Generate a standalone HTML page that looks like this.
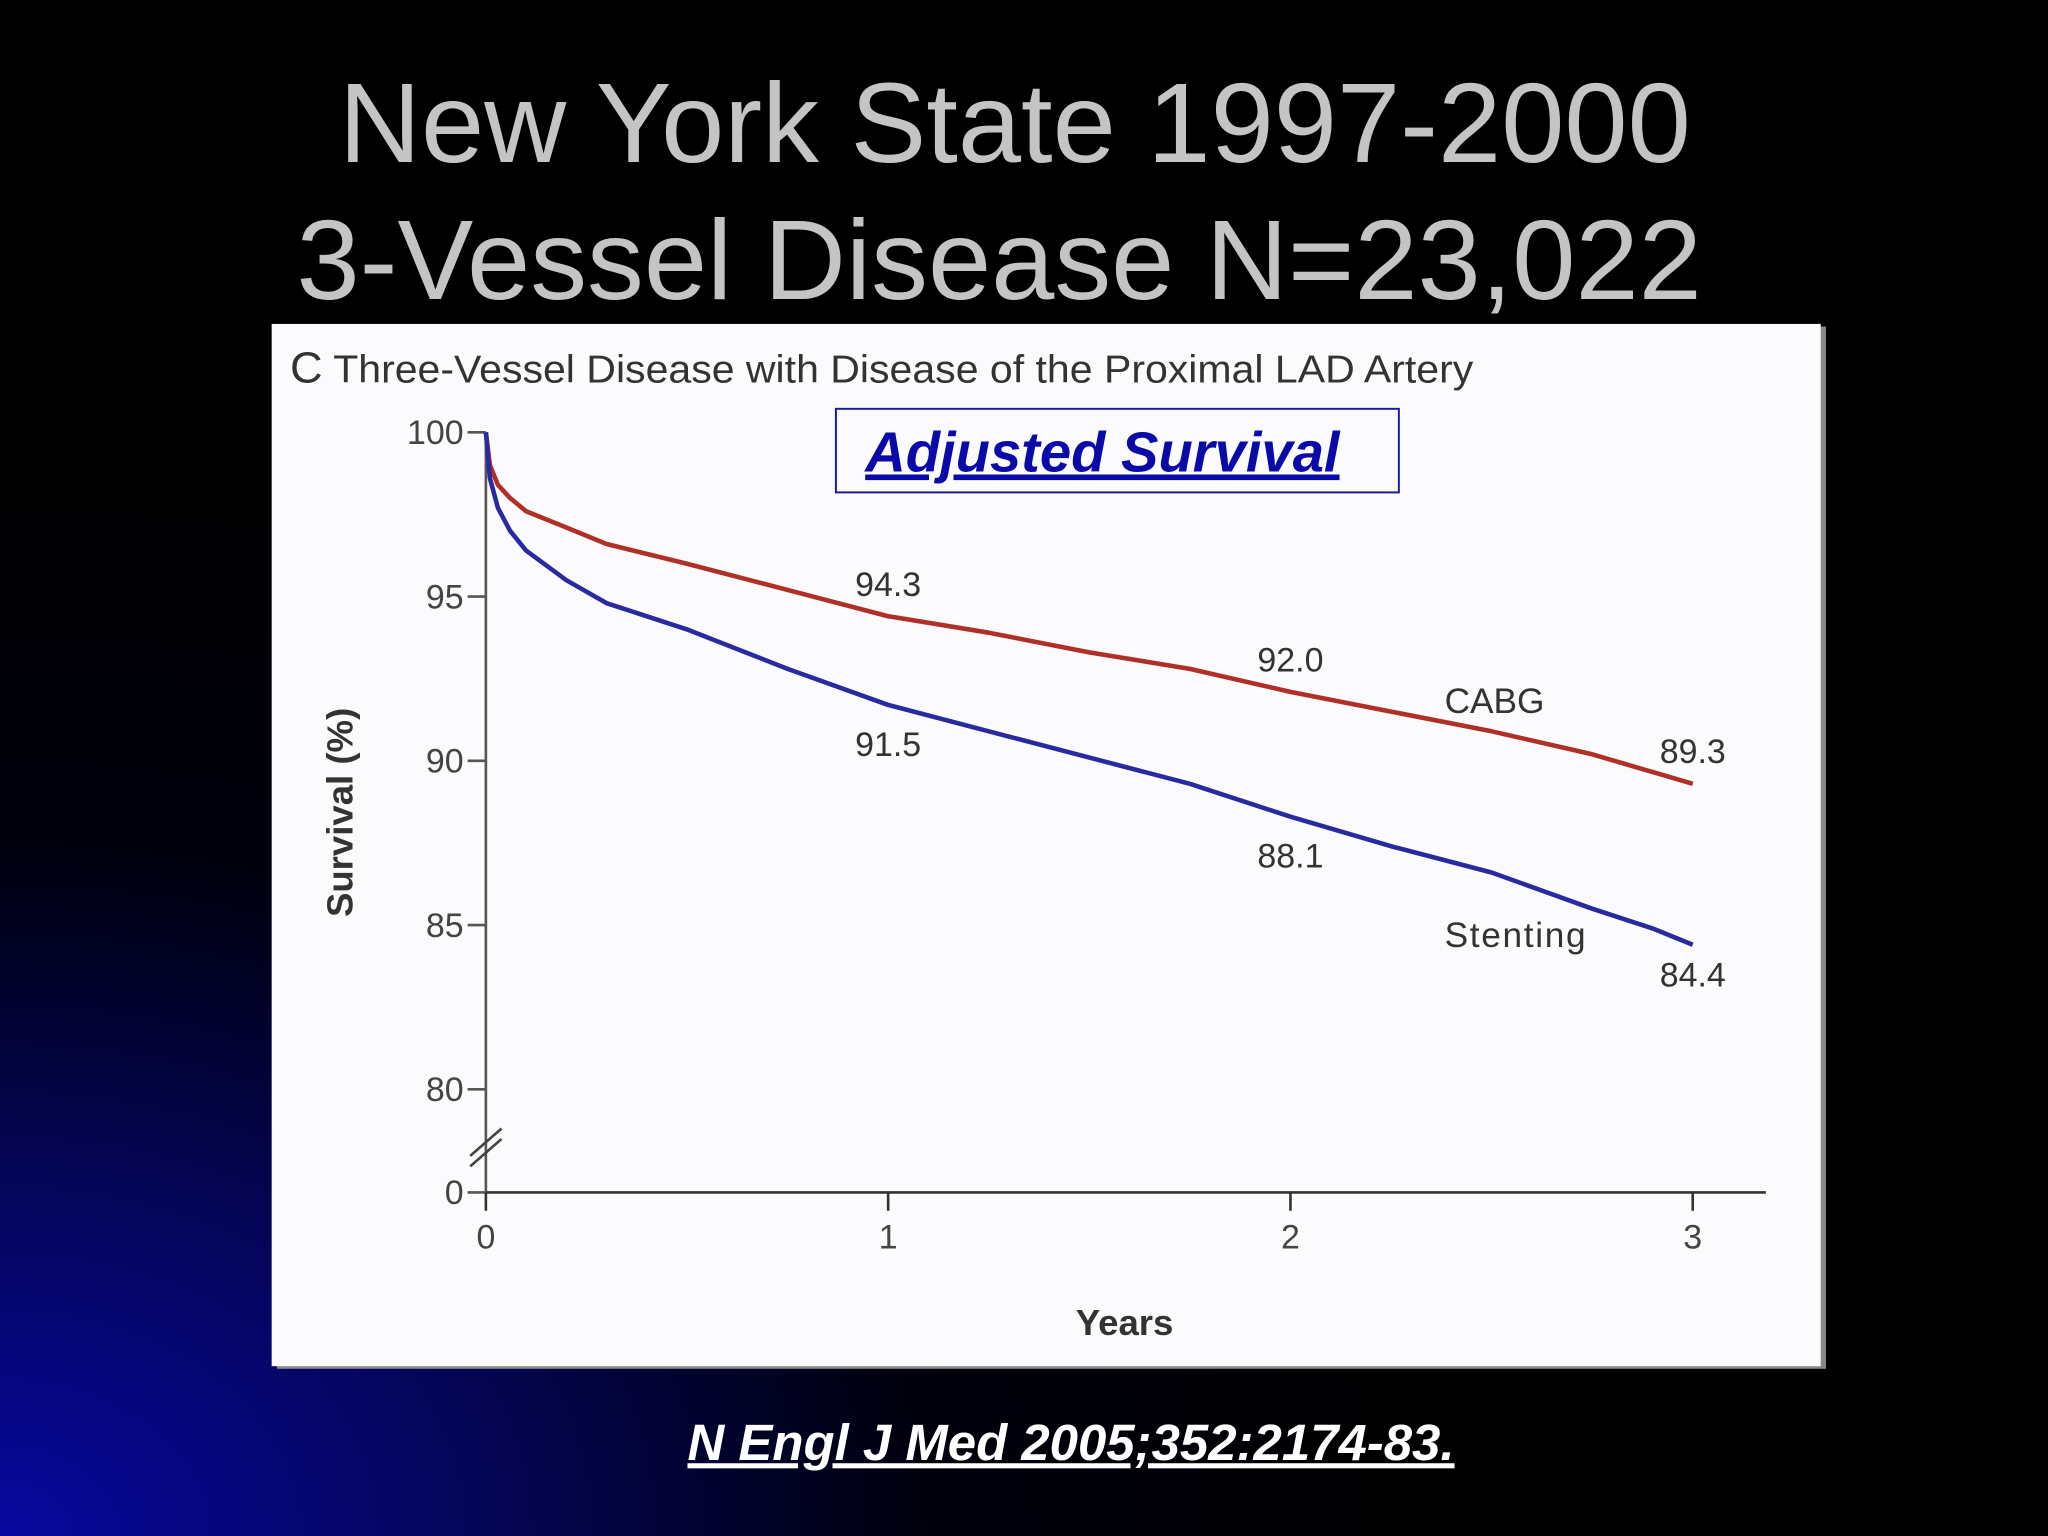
<!DOCTYPE html>
<html><head><meta charset="utf-8"><style>
html,body{margin:0;padding:0;background:#000;}
svg{display:block;}
text{font-family:"Liberation Sans",sans-serif;}
</style></head><body>
<svg width="2048" height="1536" viewBox="0 0 1568 1176" xmlns="http://www.w3.org/2000/svg">
<defs>
<radialGradient id="bg" cx="0" cy="1" r="0.7" fx="0" fy="1">
<stop offset="0" stop-color="#0808a0"/>
<stop offset="0.3" stop-color="#050560"/>
<stop offset="0.65" stop-color="#00000c"/>
<stop offset="1" stop-color="#000"/>
</radialGradient>
</defs>
<rect x="0" y="0" width="1568" height="1176" fill="#000"/>
<rect x="0" y="0" width="1568" height="1176" fill="url(#bg)"/>
<text x="777" y="124" font-size="87" fill="#c4c4c4" text-anchor="middle">New York State 1997-2000</text>
<text x="765" y="229" font-size="87" fill="#c4c4c4" text-anchor="middle">3-Vessel Disease N=23,022</text>
<rect x="212" y="250" width="1186" height="798" fill="#888"/>
<rect x="208" y="248" width="1186" height="798" fill="#fbfbfd"/>
<text x="222" y="293" font-size="30" fill="#333" textLength="906" lengthAdjust="spacingAndGlyphs"><tspan font-size="33">C</tspan>  Three-Vessel Disease with Disease of the Proximal LAD Artery</text>
<rect x="640" y="313" width="431" height="64" fill="none" stroke="#1a1aa0" stroke-width="1.5"/>
<text x="844" y="361" font-size="43" font-weight="bold" font-style="italic" fill="#0a0aa8" text-anchor="middle" text-decoration="underline">Adjusted Survival</text>
<g id="chart"></g>
<text x="820" y="1118" font-size="39" font-weight="bold" font-style="italic" fill="#fff" text-anchor="middle" text-decoration="underline">N Engl J Med 2005;352:2174-83.</text>
</svg>
<script>
const yearTicks=[0,1,2,3];
const yTicks=[100,95,90,85,80];
const cabgYears=[0,0.01,0.03,0.06,0.1,0.2,0.3,0.5,0.75,1,1.25,1.5,1.75,2,2.25,2.5,2.75,3];
const cabgValues=[100,99.0,98.4,98.0,97.6,97.1,96.6,96.0,95.2,94.4,93.9,93.3,92.8,92.1,91.5,90.9,90.2,89.3];
const stentYears=[0,0.01,0.03,0.06,0.1,0.2,0.3,0.5,0.75,1,1.25,1.5,1.75,2,2.25,2.5,2.75,2.9,3];
const stentValues=[100,98.6,97.7,97.0,96.4,95.5,94.8,94.0,92.8,91.7,90.9,90.1,89.3,88.3,87.4,86.6,85.5,84.9,84.4];
const valueLabels=[{t:'94.3',x:1,v:94.3,dy:-18,s:'cabg'},{t:'92.0',x:2,v:92.0,dy:-18,s:'cabg'},{t:'89.3',x:3,v:89.3,dy:-16,s:'cabg'},
{t:'91.5',x:1,v:91.5,dy:34,s:'stent'},{t:'88.1',x:2,v:88.1,dy:34,s:'stent'},{t:'84.4',x:3,v:84.4,dy:32,s:'stent'}];
const NS='http://www.w3.org/2000/svg';
const g=document.getElementById('chart');
const X=y=>372+y*308;
const Y=v=>331+(100-v)*25.15;
function mk(tag,attrs,parent){const e=document.createElementNS(NS,tag);for(const k in attrs)e.setAttribute(k,attrs[k]);(parent||g).appendChild(e);return e;}
let e;
e=mk('line',{x1:372,y1:331,x2:372,y2:913,stroke:'#555','stroke-width':2});

e=mk('line',{x1:372,y1:913,x2:1352,y2:913,stroke:'#333','stroke-width':2});

yTicks.forEach(v=>{
 e=mk('line',{x1:358,y1:Y(v),x2:372,y2:Y(v),stroke:'#555','stroke-width':2});
 
 e=mk('text',{x:355,y:Y(v)+9,'font-size':26,fill:'#444','text-anchor':'end'});e.textContent=v;
 
});
e=mk('line',{x1:358,y1:913,x2:372,y2:913,stroke:'#555','stroke-width':2});

e=mk('text',{x:355,y:922,'font-size':26,fill:'#444','text-anchor':'end'});e.textContent='0';

e=mk('path',{d:'M360 885 L384 864 M360 893 L384 872',stroke:'#444','stroke-width':2,fill:'none'});

yearTicks.forEach(t=>{
 e=mk('line',{x1:X(t),y1:913,x2:X(t),y2:927,stroke:'#333','stroke-width':2});
 
 e=mk('text',{x:X(t),y:956,'font-size':26,fill:'#444','text-anchor':'middle'});e.textContent=t;
 
});
e=mk('text',{x:861,y:1022,'font-size':28,fill:'#333','text-anchor':'middle','font-weight':'bold'});e.textContent='Years';

e=mk('text',{x:0,y:0,'font-size':28,fill:'#333','text-anchor':'middle','font-weight':'bold',transform:'translate(270,622) rotate(-90)'});e.textContent='Survival (%)';

function line(xs,vs,col,name){
 const d=xs.map((x,i)=>(i?'L':'M')+X(x).toFixed(1)+' '+Y(vs[i]).toFixed(1)).join(' ');
 const p=mk('path',{d:d,stroke:col,'stroke-width':3.5,fill:'none','stroke-linejoin':'round'});
 
}
line(cabgYears,cabgValues,'#b03028','cabg-line');
line(stentYears,stentValues,'#2a2aa0','stenting-line');
valueLabels.forEach(l=>{
 const t=mk('text',{x:X(l.x),y:Y(l.v)+l.dy,'font-size':26,fill:'#333','text-anchor':'middle'});t.textContent=l.t;
 
});
e=mk('text',{x:1106,y:546,'font-size':27,fill:'#333'});e.textContent='CABG';

e=mk('text',{x:1106,y:725,'font-size':27,fill:'#333',textLength:108});e.textContent='Stenting';

</script>
</body></html>
